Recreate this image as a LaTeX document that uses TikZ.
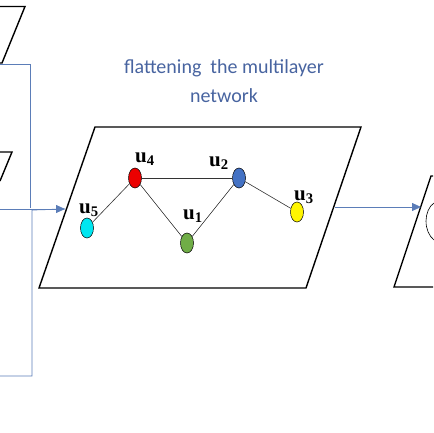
\documentclass[tikz,border=0pt]{standalone}
\usepackage{fontspec}
\setmainfont{Liberation Serif}
\newfontfamily\titlefont{Carlito}
\usetikzlibrary{arrows.meta,shapes.geometric}

\definecolor{linkblue}{RGB}{91,125,184}
\definecolor{titleblue}{RGB}{72,100,160}
\definecolor{ucyan}{RGB}{0,230,240}
\definecolor{ured}{RGB}{235,0,0}
\definecolor{ublue}{RGB}{68,114,196}
\definecolor{ugreen}{RGB}{112,173,71}
\definecolor{uyellow}{RGB}{255,245,0}

\tikzset{
  layer/.style={draw=black,line width=1.4pt,line join=miter},
  vertex/.style={ellipse,draw=black,line width=0.5pt,minimum width=13pt,minimum height=20pt,inner sep=0pt},
  vlabel/.style={inner sep=0.75pt,font=\fontsize{21}{21}\selectfont\bfseries},
  edge/.style={draw=black!80,line width=0.6pt},
  feed/.style={draw=linkblue,line width=0.8pt},
  feedarrow/.style={feed,-{Triangle[length=9pt,width=8pt]}},
}

\begin{document}
\begin{tikzpicture}[x=1pt,y=1pt,yscale=-1,xscale=1]
\useasboundingbox (0,0) rectangle (433,433);

%Shape: Parallelogram (flattened layer)
\draw[layer] (95,127) -- (361,127) -- (306,288) -- (39,288) -- cycle ;
%Shape: Parallelogram (input layers, cut at the left)
\draw[layer] (0,6.5) -- (25,6.5) -- (2,63) -- (0,63) ;
\draw[layer] (0,152) -- (12,152) -- (0,181) ;
%Shape: Parallelogram (next step, cut at the right)
\draw[layer] (433,176) -- (431,176) -- (394,287) -- (433,287) ;
%Shape: Ellipse (cut at the right)
\draw[line width=0.6pt] (434,203) .. controls (429,206) and (426,214) .. (426,221) .. controls (426,229) and (429,236) .. (434,240) ;

% Text Node
\node[font=\titlefont\fontsize{20}{29}\selectfont,text=titleblue,align=center] (title) at (224,81) {flattening\ \ the multilayer\\network};

% Vertices
\node[vertex,fill=ugreen]  (u1) at (187,243) {};
\node[vertex,fill=ublue]   (u2) at (239,178) {};
\node[vertex,fill=uyellow] (u3) at (297,212) {};
\node[vertex,fill=ured]    (u4) at (135,178) {};
\node[vertex,fill=ucyan]   (u5) at (87,228) {};

% Text Node
\node[vlabel] (l1) at (193,216) {u\textsubscript{1}};
% Text Node
\node[vlabel] (l2) at (219,163) {u\textsubscript{2}};
% Text Node
\node[vlabel] (l3) at (304,197) {u\textsubscript{3}};
% Text Node
\node[vlabel] (l4) at (145,159) {u\textsubscript{4}};
% Text Node
\node[vlabel] (l5) at (89,210) {u\textsubscript{5}};

%Straight Lines
\draw[edge] (u5) -- (u4) ;
\draw[edge] (u4) -- (u2) ;
\draw[edge] (u4) -- (u1) ;
\draw[edge] (u1) -- (u2) ;
\draw[edge] (u2) -- (u3) ;

% Feeds from the input layers
\coordinate (in1) at (0,64);
\coordinate (in2) at (0,209);
\coordinate (in3) at (0,376);
\coordinate (j1) at (30,208);
\coordinate (j3) at (32,210);
\coordinate (enter) at (65,209);
\coordinate (leave) at (335,207);
\coordinate (next) at (421,207);

\draw[feed] (in1) -| (j1) ;
\draw[feed] (in3) -| (j3) -- (enter) ;
\draw[feedarrow] (in2) -- (enter) ;
\draw[feedarrow] (leave) -- (next) ;

\end{tikzpicture}
\end{document}
